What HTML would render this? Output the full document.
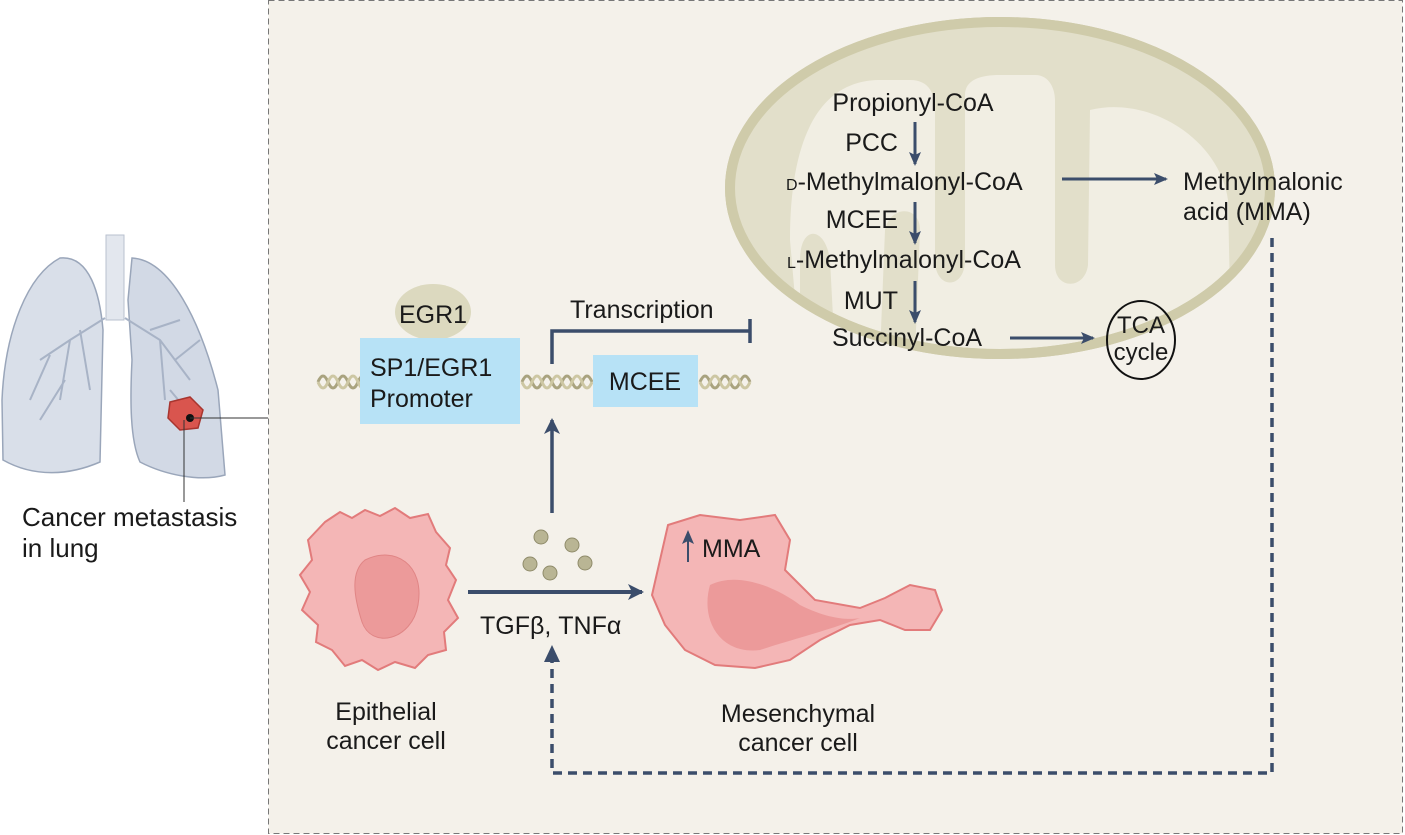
<!DOCTYPE html>
<html><head><meta charset="utf-8"><style>
html,body{margin:0;padding:0;background:#fff;width:1405px;height:835px;overflow:hidden}
text{font-family:"Liberation Sans",sans-serif;fill:#1a1a1a}
</style></head><body>
<svg width="1405" height="835" viewBox="0 0 1405 835" xmlns="http://www.w3.org/2000/svg">
<defs>
<marker id="ah" markerWidth="14" markerHeight="14" refX="12" refY="7" orient="auto" markerUnits="userSpaceOnUse"><path d="M0,1 L14,7 L0,13 L3,7 Z" fill="#3b4d6b"/></marker>
<marker id="ahs" markerWidth="16" markerHeight="16" refX="14" refY="8" orient="auto" markerUnits="userSpaceOnUse"><path d="M0,0 L16,8 L0,16 L4,8 Z" fill="#3b4d6b"/></marker>
<clipPath id="mc"><ellipse cx="1000" cy="188" rx="266" ry="162"/></clipPath>
</defs>
<rect x="268.5" y="0.5" width="1134" height="833" fill="#f4f1ea" stroke="#777" stroke-dasharray="6,4"/>
<!-- mitochondrion -->
<ellipse cx="1000" cy="188" rx="270" ry="166" fill="#f1eee3" stroke="#cfcbaa" stroke-width="10"/>
<g clip-path="url(#mc)" fill="#e2dfca">
<path d="M720,0 L1290,0 L1290,400 L720,400 Z M790,240 C790,120 830,80 880,80 L910,80 C930,80 935,95 935,110 L935,260 C935,290 965,290 965,260 L965,95 C965,80 980,75 1000,75 L1035,75 C1050,75 1055,90 1055,100 L1055,265 C1055,290 1085,290 1088,265 L1090,110 C1150,95 1220,140 1228,200 L1230,295 C1232,320 1250,320 1252,295 L1255,240 C1250,320 1150,355 1050,355 L800,355 Z" fill-rule="evenodd"/>
<path d="M800,355 L800,260 C800,225 825,225 830,260 L835,355 Z"/>
<path d="M880,355 L885,230 C890,205 920,205 920,230 L915,355 Z"/>
<path d="M735,300 C740,245 760,215 775,240 L780,300 Z"/>
</g>
<ellipse cx="1000" cy="188" rx="270" ry="166" fill="none" stroke="#cfcbaa" stroke-width="10"/>
<!-- pathway -->
<g font-size="25">
<text x="913" y="111" text-anchor="middle">Propionyl-CoA</text>
<text x="898" y="151" text-anchor="end">PCC</text>
<line x1="915" y1="122" x2="915" y2="164" stroke="#3b4d6b" stroke-width="3" marker-end="url(#ah)"/>
<text x="786" y="190"><tspan font-size="16">D</tspan>-Methylmalonyl-CoA</text>
<text x="898" y="228" text-anchor="end">MCEE</text>
<line x1="915" y1="202" x2="915" y2="243" stroke="#3b4d6b" stroke-width="3" marker-end="url(#ah)"/>
<text x="787" y="268"><tspan font-size="16">L</tspan>-Methylmalonyl-CoA</text>
<text x="898" y="309" text-anchor="end">MUT</text>
<line x1="915" y1="281" x2="915" y2="322" stroke="#3b4d6b" stroke-width="3" marker-end="url(#ah)"/>
<text x="832" y="346">Succinyl-CoA</text>
<line x1="1062" y1="179" x2="1166" y2="179" stroke="#3b4d6b" stroke-width="3" marker-end="url(#ah)"/>
<text x="1183" y="190">Methylmalonic</text>
<text x="1183" y="220">acid (MMA)</text>
<line x1="1010" y1="338" x2="1093" y2="338" stroke="#3b4d6b" stroke-width="3" marker-end="url(#ah)"/>
</g>
<ellipse cx="1141" cy="340" rx="34" ry="39" fill="none" stroke="#111" stroke-width="2"/>
<text x="1141" y="333" font-size="24" text-anchor="middle">TCA</text>
<text x="1141" y="360" font-size="24" text-anchor="middle">cycle</text>
<!-- DNA segments -->
<g stroke-width="3" fill="none">
<path d="M318,382 q5,-12 10,0 t10,0 t10,0 t10,0 t10,0" stroke="#a9a37f"/>
<path d="M318,382 q5,12 10,0 t10,0 t10,0 t10,0 t10,0" stroke="#cdc7a3"/>
<path d="M522,382 q5,-12 10,0 t10,0 t10,0 t10,0 t10,0 t10,0 t10,0" stroke="#a9a37f"/>
<path d="M522,382 q5,12 10,0 t10,0 t10,0 t10,0 t10,0 t10,0 t10,0" stroke="#cdc7a3"/>
<path d="M700,382 q5,-12 10,0 t10,0 t10,0 t10,0 t10,0" stroke="#a9a37f"/>
<path d="M700,382 q5,12 10,0 t10,0 t10,0 t10,0 t10,0" stroke="#cdc7a3"/>
</g>
<ellipse cx="433" cy="312" rx="38" ry="28" fill="#dcd9bf"/>
<text x="433" y="323" font-size="25" text-anchor="middle">EGR1</text>
<rect x="360" y="338" width="160" height="86" fill="#b7e2f6"/>
<text x="370" y="376" font-size="25">SP1/EGR1</text>
<text x="370" y="407" font-size="25">Promoter</text>
<rect x="593" y="355" width="105" height="52" fill="#b7e2f6"/>
<text x="645" y="390" font-size="25" text-anchor="middle">MCEE</text>
<path d="M552,364 L552,331 L750,331" fill="none" stroke="#3b4d6b" stroke-width="3.5"/>
<line x1="750" y1="319" x2="750" y2="343" stroke="#3b4d6b" stroke-width="3.5"/>
<text x="570" y="318" font-size="25">Transcription</text>
<line x1="552" y1="513" x2="552" y2="420" stroke="#3b4d6b" stroke-width="3.5" marker-end="url(#ahs)"/>
<!-- dots -->
<g fill="#b9b594" stroke="#8f8b6a" stroke-width="1">
<circle cx="541" cy="537" r="7"/><circle cx="572" cy="545" r="7"/><circle cx="530" cy="564" r="7"/><circle cx="585" cy="563" r="7"/><circle cx="550" cy="573" r="7"/>
</g>
<line x1="468" y1="592" x2="642" y2="592" stroke="#3b4d6b" stroke-width="4" marker-end="url(#ahs)"/>
<text x="480" y="634" font-size="25">TGFβ, TNFα</text>
<!-- feedback dashed -->
<path d="M1272,238 L1272,773 L552,773 L552,662" fill="none" stroke="#3b4d6b" stroke-width="3.5" stroke-dasharray="9,6"/>
<path d="M544,662 L552,645 L560,662 Z" fill="#3b4d6b"/>
<!-- epithelial cell -->
<path d="M325,522 L340,512 L352,518 L365,510 L380,516 L395,508 L410,518 L428,514 L436,532 L450,548 L446,565 L456,580 L448,600 L458,618 L444,632 L446,650 L428,655 L415,668 L395,662 L378,670 L362,660 L345,666 L332,650 L316,642 L318,625 L302,610 L310,592 L300,575 L312,560 L308,540 Z" fill="#f4b6b6" stroke="#e27b7b" stroke-width="2"/>
<path d="M365,560 C395,545 425,565 418,605 C412,640 372,650 362,622 C354,597 350,572 365,560 Z" fill="#ec9a9a" stroke="#e08585"/>
<text x="386" y="720" font-size="25" text-anchor="middle">Epithelial</text>
<text x="386" y="749" font-size="25" text-anchor="middle">cancer cell</text>
<!-- mesenchymal cell -->
<path d="M668,525 L700,515 L740,520 L775,515 L790,540 L785,570 L815,600 L860,608 L885,598 L910,585 L935,590 L942,610 L930,630 L905,630 L880,620 L850,625 L820,640 L790,660 L755,668 L715,665 L685,650 L665,625 L652,595 L660,560 Z" fill="#f4b6b6" stroke="#e27b7b" stroke-width="2"/>
<path d="M710,585 C740,570 780,590 800,605 C830,620 850,620 860,618 C830,630 790,640 760,650 C720,655 700,620 710,585 Z" fill="#ec9a9a"/>
<line x1="688" y1="562" x2="688" y2="532" stroke="#3b4d6b" stroke-width="2" marker-end="url(#ah)"/>
<text x="702" y="557" font-size="25">MMA</text>
<text x="798" y="722" font-size="25" text-anchor="middle">Mesenchymal</text>
<text x="798" y="751" font-size="25" text-anchor="middle">cancer cell</text>
<!-- lungs -->
<rect x="106" y="235" width="18" height="85" fill="#e3e7ee" stroke="#b9c1cf"/>
<path d="M60,258 C28,275 5,330 2,400 L3,460 C35,478 70,475 100,462 L103,330 C100,295 90,255 60,258 Z" fill="#d9dfe9" stroke="#9aa6ba" stroke-width="1.5"/>
<path d="M132,258 C170,260 200,320 218,390 L225,475 C200,482 165,475 140,462 C130,440 130,400 132,360 L128,300 Z" fill="#d2d9e5" stroke="#9aa6ba" stroke-width="1.5"/>
<g stroke="#a8b3c6" stroke-width="2" fill="none">
<path d="M105,318 L70,340 L40,360 M70,340 L60,400 M80,330 L90,390 M50,355 L30,400 M65,380 L40,420"/>
<path d="M125,318 L160,340 L190,380 M160,340 L165,400 M150,330 L180,320 M175,360 L200,340 M170,390 L195,420"/>
</g>
<path d="M170,402 L190,397 L203,410 L198,428 L180,430 L168,418 Z" fill="#d9554e" stroke="#a8352f" stroke-width="1.5"/>
<circle cx="190" cy="418" r="4" fill="#111"/>
<line x1="190" y1="418" x2="268" y2="418" stroke="#333" stroke-width="1"/>
<line x1="184" y1="420" x2="184" y2="502" stroke="#333" stroke-width="1"/>
<text x="22" y="526" font-size="26">Cancer metastasis</text>
<text x="22" y="557" font-size="26">in lung</text>
</svg>
</body></html>
